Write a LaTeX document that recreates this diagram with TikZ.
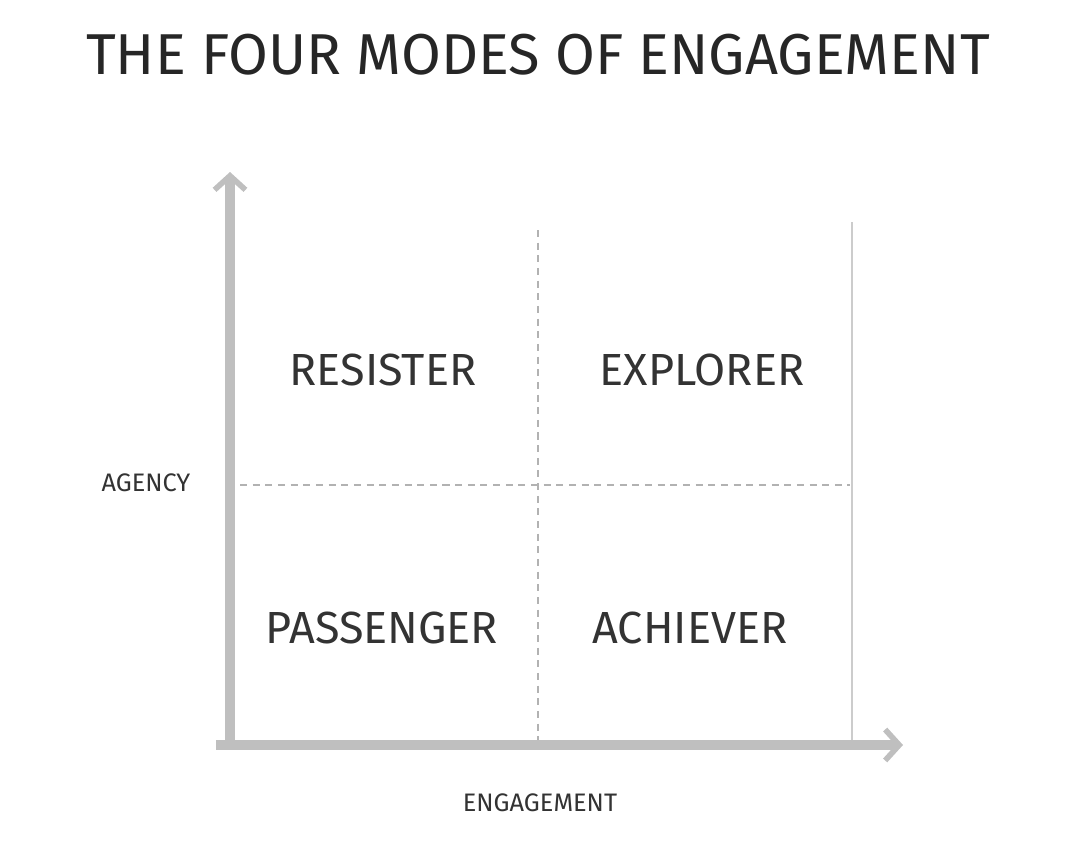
\documentclass[tikz,border=0pt]{standalone}
\usepackage{fontspec}
\setmainfont{Fira Sans}
\usetikzlibrary{positioning, arrows.meta}

\begin{document}
\begin{tikzpicture}[x=0.025cm, y=-0.025cm,
    quadrant/.style={font=\fontsize{32}{32}\selectfont, text=black!80},
    axislabel/.style={font=\fontsize{18}{18}\selectfont, text=black!80},
    axisline/.style={line width=7pt, black!25, -{Straight Barb[length=10pt, width=22pt, line width=4pt]}},
    gridline/.style={dash pattern=on 5pt off 4pt, black!30, line width=0.8pt}]
        % Frame
        \useasboundingbox (0,0) rectangle (1088,842);

        % Title
        \node[font=\fontsize{41}{41}\selectfont, text=black!85] (title) at (538,55)
        {THE FOUR MODES OF ENGAGEMENT};

        % Axis end points
        \coordinate (origin) at (230,745);
        \coordinate (ytip) at (230,172);
        \coordinate (xtip) at (903,745);

        % Grid lines
        \coordinate (midtop) at (538,230);
        \coordinate (midbot) at (538,740);
        \coordinate (midleft) at (240,485);
        \coordinate (midright) at (850,485);
        \coordinate (righttop) at (852,222);
        \coordinate (rightbot) at (852,740);
        \draw[gridline] (midtop) -- (midbot);
        \draw[gridline] (midleft) -- (midright);
        \draw[black!20, line width=0.8pt] (righttop) -- (rightbot);

        % Axes
        \draw[axisline] (origin) -- (ytip);
        \draw[axisline] ([xshift=-10pt]origin) -- (xtip);

        % Quadrants
        \node[quadrant] (resister) at (383,370) {RESISTER};
        \node[quadrant] (explorer) at (702,370) {EXPLORER};
        \node[quadrant] (passenger) at (382,628) {PASSENGER};
        \node[quadrant] (achiever) at (690,628) {ACHIEVER};

        % Axis labels
        \node[axislabel] (agency) at (146,483) {AGENCY};
        \node[axislabel] (engagement) at (540,803) {ENGAGEMENT};
    \end{tikzpicture}
\end{document}
